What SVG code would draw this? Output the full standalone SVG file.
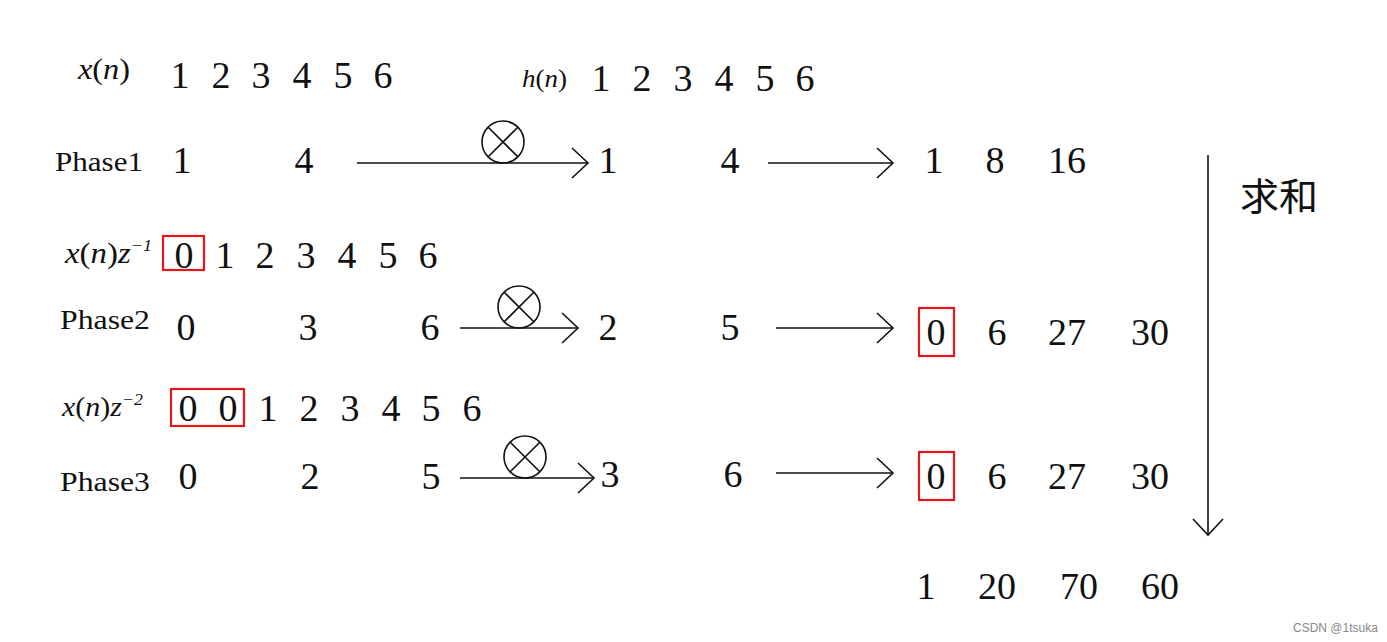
<svg xmlns="http://www.w3.org/2000/svg" width="1387" height="642" viewBox="0 0 1387 642">
<style>
.d{font-family:"Liberation Serif","DejaVu Serif",serif;font-size:38px;fill:#111;text-anchor:middle}
.lbl{font-family:"Liberation Serif","DejaVu Serif",serif;font-size:28px;fill:#111}
.it{font-family:"Liberation Serif","DejaVu Serif",serif;font-style:italic;font-size:29px;fill:#111}
.r{font-style:normal}
.sup{font-size:16px}
.cjk{font-family:"Noto Sans CJK SC",serif;font-size:38px;fill:#111}
.ln{stroke:#111;stroke-width:1.6;fill:none}
.box{stroke:#e8151b;stroke-width:2.2;fill:none}
.wm{font-family:"Liberation Sans",sans-serif;font-size:12px;fill:#888}
</style>
<defs>
<marker id="ah" markerUnits="userSpaceOnUse" markerWidth="40" markerHeight="40" viewBox="-20 -20 40 40" refX="0" refY="0" orient="auto">
<path d="M-16,-15 L0,0 L-16,15" fill="none" stroke="#111" stroke-width="1.6"/>
</marker>
<g id="mul"><circle r="21" class="ln"/><path class="ln" d="M-14.8,-14.8 L14.8,14.8 M14.8,-14.8 L-14.8,14.8"/></g>
</defs>

<g id="row-xn">
<text class="it" x="78" y="79" textLength="52" lengthAdjust="spacingAndGlyphs">x<tspan class="r">(</tspan>n<tspan class="r">)</tspan></text>
<text class="d" y="88"><tspan x="180">1</tspan><tspan x="221">2</tspan><tspan x="261">3</tspan><tspan x="302">4</tspan><tspan x="343">5</tspan><tspan x="383">6</tspan></text>
</g>
<g id="row-hn">
<text class="it" x="522" y="87" style="font-size:25px" textLength="45" lengthAdjust="spacingAndGlyphs">h<tspan class="r">(</tspan>n<tspan class="r">)</tspan></text>
<text class="d" y="91"><tspan x="601">1</tspan><tspan x="642">2</tspan><tspan x="683">3</tspan><tspan x="724">4</tspan><tspan x="765">5</tspan><tspan x="805">6</tspan></text>
</g>

<g id="phase1">
<text class="lbl" x="55" y="171" textLength="88" lengthAdjust="spacingAndGlyphs">Phase1</text>
<text class="d" y="173"><tspan x="182">1</tspan><tspan x="304">4</tspan><tspan x="608">1</tspan><tspan x="730">4</tspan><tspan x="934">1</tspan><tspan x="995">8</tspan><tspan x="1067">16</tspan></text>
</g>

<g id="row-xz1">
<text class="it" x="65" y="263" textLength="87" lengthAdjust="spacingAndGlyphs">x<tspan class="r">(</tspan>n<tspan class="r">)</tspan>z<tspan class="sup" dy="-12">−1</tspan></text>
<rect class="box" x="163" y="236" width="41" height="34"/>
<text class="d" y="268"><tspan x="184">0</tspan><tspan x="225">1</tspan><tspan x="265">2</tspan><tspan x="306">3</tspan><tspan x="347">4</tspan><tspan x="388">5</tspan><tspan x="428">6</tspan></text>
</g>

<g id="phase2">
<text class="lbl" x="60" y="329" textLength="90" lengthAdjust="spacingAndGlyphs">Phase2</text>
<text class="d" y="340"><tspan x="186">0</tspan><tspan x="308">3</tspan><tspan x="430">6</tspan><tspan x="608">2</tspan><tspan x="730">5</tspan></text>
<rect class="box" x="919" y="308" width="35" height="48"/>
<text class="d" y="345"><tspan x="936">0</tspan><tspan x="997">6</tspan><tspan x="1067">27</tspan><tspan x="1150">30</tspan></text>
</g>

<g id="row-xz2">
<text class="it" x="62" y="416" style="font-size:27px" textLength="81" lengthAdjust="spacingAndGlyphs">x<tspan class="r">(</tspan>n<tspan class="r">)</tspan>z<tspan class="sup" dy="-11">−2</tspan></text>
<rect class="box" x="171" y="389" width="73" height="37"/>
<text class="d" y="421"><tspan x="188">0</tspan><tspan x="228">0</tspan><tspan x="268">1</tspan><tspan x="309">2</tspan><tspan x="350">3</tspan><tspan x="391">4</tspan><tspan x="431">5</tspan><tspan x="472">6</tspan></text>
</g>

<g id="phase3">
<text class="lbl" x="60" y="491" textLength="90" lengthAdjust="spacingAndGlyphs">Phase3</text>
<text class="d" y="489"><tspan x="188">0</tspan><tspan x="310">2</tspan><tspan x="431">5</tspan></text>
<text class="d" y="487"><tspan x="610">3</tspan><tspan x="733">6</tspan></text>
<rect class="box" x="919" y="452" width="35" height="48"/>
<text class="d" y="489"><tspan x="936">0</tspan><tspan x="997">6</tspan><tspan x="1067">27</tspan><tspan x="1150">30</tspan></text>
</g>

<g id="result">
<text class="d" y="599"><tspan x="926">1</tspan><tspan x="997">20</tspan><tspan x="1079">70</tspan><tspan x="1160">60</tspan></text>
</g>

<g id="sum-label">
<text class="cjk" x="1240" y="210" textLength="78" lengthAdjust="spacingAndGlyphs">求和</text>
</g>

<g id="connectors">
<line class="ln" x1="357" y1="163" x2="588" y2="163" marker-end="url(#ah)"/>
<use href="#mul" x="503" y="142"/>
<line class="ln" x1="768" y1="163" x2="893" y2="163" marker-end="url(#ah)"/>
<line class="ln" x1="460" y1="328" x2="578" y2="328" marker-end="url(#ah)"/>
<use href="#mul" x="519" y="307"/>
<line class="ln" x1="776" y1="328" x2="893" y2="328" marker-end="url(#ah)"/>
<line class="ln" x1="460" y1="478" x2="594" y2="478" marker-end="url(#ah)"/>
<use href="#mul" x="525" y="457"/>
<line class="ln" x1="776" y1="473" x2="893" y2="473" marker-end="url(#ah)"/>
<line class="ln" x1="1208" y1="155" x2="1208" y2="535" marker-end="url(#ah)"/>
</g>

<text class="wm" x="1293" y="632">CSDN @1tsuka</text>
</svg>
